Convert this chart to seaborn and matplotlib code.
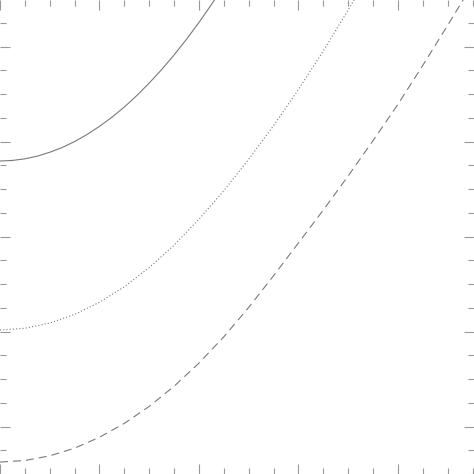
import pandas as pd
import matplotlib
matplotlib.use('Agg')
from matplotlib import pyplot as plt
from matplotlib.ticker import MultipleLocator
import seaborn as sns

# values (x in major-tick units)
x_solid = [0, 0.125, 0.25, 0.375, 0.5, 0.625, 0.75, 0.875, 1.0, 1.125, 1.25,
           1.375, 1.5, 1.625, 1.75, 1.875, 2.0, 2.125, 2.25]
y_solid = [2.795, 2.801, 2.818, 2.846, 2.887, 2.937, 3.000, 3.074, 3.160,
           3.256, 3.364, 3.484, 3.616, 3.758, 3.912, 4.077, 4.254, 4.442,
           4.641]

x_dotted = [0, 0.25, 0.5, 0.75, 1.0, 1.25, 1.5, 1.75, 2.0, 2.25, 2.5, 2.75,
            3.0, 3.25, 3.5, 3.75]
y_dotted = [1.016, 1.034, 1.089, 1.180, 1.308, 1.472, 1.673, 1.910, 2.183,
            2.483, 2.814, 3.168, 3.549, 3.955, 4.387, 4.825]

x_dashed = [0, 0.25, 0.5, 0.75, 1.0, 1.25, 1.5, 1.75, 2.0, 2.25, 2.5, 2.75,
            3.0, 3.25, 3.5, 3.75, 4.0, 4.25, 4.5, 4.75]
y_dashed = [-0.374, -0.358, -0.309, -0.228, -0.113, 0.033, 0.212, 0.424,
            0.668, 0.945, 1.254, 1.588, 1.933, 2.280, 2.639, 3.011, 3.393,
            3.803, 4.225, 4.655]

sns.set_style("white")
fig = plt.figure(figsize=(4.74, 4.74), dpi=100)
ax = fig.add_axes([0, 0, 1, 1])

grey = "#7a7a7a"
sns.lineplot(x=x_solid, y=y_solid, ax=ax, color=grey, lw=0.8, sort=False)
sns.lineplot(x=x_dotted, y=y_dotted, ax=ax, color=grey, lw=0.8, sort=False,
             linestyle=(0, (1, 1.9)))
sns.lineplot(x=x_dashed, y=y_dashed, ax=ax, color=grey, lw=0.8, sort=False,
             linestyle=(0, (7.2, 4.5)))

ax.set_xlim(0, 4.764)
ax.set_ylim(-0.5, 4.49)
ax.xaxis.set_major_locator(MultipleLocator(1))
ax.xaxis.set_minor_locator(MultipleLocator(0.25))
ax.yaxis.set_major_locator(MultipleLocator(1))
ax.yaxis.set_minor_locator(MultipleLocator(0.25))
ax.tick_params(which='both', direction='in', top=True, right=True,
               bottom=True, left=True, labelbottom=False, labelleft=False,
               color="#999999", width=0.8)
ax.tick_params(which='major', length=7)
ax.tick_params(which='minor', length=4)
for s in ax.spines.values():
    s.set_visible(False)
ax.set_xlabel("")
ax.set_ylabel("")

fig.savefig("out.png", dpi=100)
plt.close('all')
